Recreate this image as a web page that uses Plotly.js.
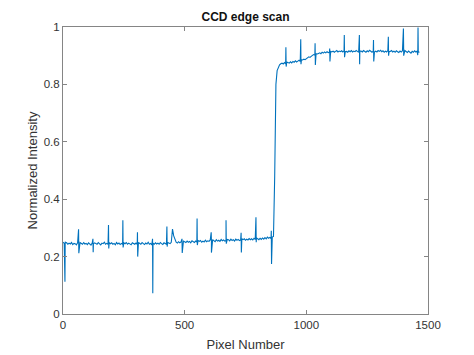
<!DOCTYPE html>
<html>
<head>
<meta charset="utf-8">
<script src="https://cdn.plot.ly/plotly-3.0.1.min.js"></script>
<style>html,body{margin:0;padding:0;background:#fff;}#chart{width:474px;height:355px;}</style>
</head>
<body>
<div id="chart"></div>
<script>
// Pixel step between baseline samples
const pixelStep = 5;

// Normalized intensity baseline, one reading every 5 pixels (0 .. 1465)
const baseline = [
  0.250,0.246,0.250,0.248,0.243,0.247,0.244,0.249,0.242,0.246,0.245,0.241,0.248,0.244,0.249,0.247,0.243,0.249,0.244,0.246,
  0.242,0.248,0.245,0.240,0.247,0.244,0.248,0.246,0.243,0.249,0.244,0.241,0.247,0.245,0.250,0.243,0.246,0.243,0.249,0.245,
  0.248,0.243,0.246,0.241,0.249,0.244,0.247,0.242,0.246,0.243,0.248,0.245,0.249,0.243,0.247,0.244,0.241,0.248,0.245,0.243,
  0.247,0.243,0.249,0.246,0.243,0.249,0.245,0.242,0.247,0.244,0.250,0.243,0.246,0.241,0.247,0.243,0.248,0.244,0.247,0.243,
  0.249,0.245,0.242,0.248,0.244,0.243,0.249,0.247,0.245,0.250,0.296,0.272,0.256,0.250,0.247,0.252,0.248,0.251,0.249,0.254,
  0.252,0.249,0.254,0.250,0.253,0.248,0.255,0.251,0.249,0.254,0.251,0.256,0.253,0.256,0.250,0.254,0.251,0.257,0.252,0.255,
  0.253,0.258,0.254,0.259,0.256,0.252,0.259,0.254,0.257,0.253,0.260,0.255,0.258,0.254,0.256,0.260,0.259,0.255,0.261,0.256,
  0.259,0.254,0.261,0.257,0.260,0.256,0.258,0.262,0.259,0.262,0.257,0.261,0.258,0.263,0.259,0.262,0.258,0.264,0.260,0.265,
  0.262,0.259,0.264,0.260,0.265,0.261,0.266,0.262,0.268,0.264,0.267,0.263,0.268,0.270,0.480,0.800,0.848,0.862,0.868,0.872,
  0.874,0.871,0.876,0.872,0.878,0.877,0.874,0.879,0.875,0.880,0.877,0.882,0.878,0.881,0.884,0.880,0.886,0.885,0.888,0.886,
  0.890,0.893,0.896,0.894,0.899,0.901,0.904,0.902,0.907,0.906,0.908,0.910,0.907,0.912,0.909,0.913,0.910,0.914,0.911,0.912,
  0.915,0.913,0.916,0.912,0.915,0.918,0.913,0.916,0.914,0.917,0.913,0.917,0.914,0.915,0.912,0.917,0.914,0.918,0.913,0.916,
  0.914,0.918,0.915,0.912,0.917,0.916,0.913,0.918,0.915,0.912,0.917,0.914,0.919,0.915,0.912,0.916,0.913,0.916,0.913,0.918,
  0.915,0.919,0.914,0.917,0.912,0.916,0.913,0.918,0.914,0.915,0.918,0.913,0.916,0.912,0.917,0.914,0.911,0.916,0.913,0.917,
  0.914,0.918,0.914,0.911,0.916,0.913,0.909,0.915,0.912,0.917,0.913,0.916,0.912,0.913
];

// Single-pixel spikes: pixel, first reading, reading on the next pixel
const spikePixels = [8, 64, 123, 187, 246, 306, 368, 427, 489, 551, 609, 670, 732, 793, 856,
                     916, 977, 1036, 1096, 1156, 1218, 1276, 1337, 1399, 1458];
const spikeFirst  = [0.112, 0.295, 0.262, 0.310, 0.327, 0.285, 0.262, 0.305, 0.262, 0.333, 0.285, 0.327, 0.283, 0.337, 0.290,
                     0.929, 0.957, 0.943, 0.925, 0.972, 0.972, 0.955, 0.966, 0.995, 0.902];
const spikeSecond = [0.252, 0.212, 0.215, 0.228, 0.232, 0.200, 0.072, 0.235, 0.213, 0.240, 0.214, 0.245, 0.214, 0.250, 0.174,
                     0.862, 0.870, 0.868, 0.880, 0.895, 0.870, 0.880, 0.900, 0.900, 0.998];

// Merge baseline readings and spikes into one pixel-ordered series
const points = baseline.map((v, i) => [i * pixelStep, v]);
spikePixels.forEach((p, k) => {
  points.push([p, spikeFirst[k]]);
  points.push([p + 1, spikeSecond[k]]);
});
points.sort((a, b) => a[0] - b[0]);
const pixelNumber = points.map(p => p[0]);
const intensity = points.map(p => p[1]);

const xTicks = [0, 500, 1000, 1500];
const yTicks = [0, 0.2, 0.4, 0.6, 0.8, 1];
const yTickText = ['0', '0.2', '0.4', '0.6', '0.8', '1'];

const fontFamily = 'Liberation Sans, Arial, Helvetica, sans-serif';
const axisCommon = {
  showline: true, linecolor: '#858585', linewidth: 1,
  mirror: 'ticks', ticks: 'inside', ticklen: 4, tickcolor: '#858585', tickwidth: 1,
  showgrid: false, zeroline: false,
  tickfont: {family: fontFamily, size: 11.5, color: '#333333'}
};

Plotly.newPlot('chart', [{
  x: pixelNumber, y: intensity, type: 'scatter', mode: 'lines',
  line: {color: '#0072BD', width: 1.1}, hoverinfo: 'skip'
}], {
  width: 474, height: 355,
  margin: {l: 63, r: 46, t: 27, b: 41},
  paper_bgcolor: '#ffffff', plot_bgcolor: '#ffffff',
  showlegend: false,
  title: {text: '<b>CCD edge scan</b>', font: {family: fontFamily, size: 12, color: '#111111'},
          x: 0.5, xref: 'paper', xanchor: 'center', y: 0.953, yref: 'container', yanchor: 'middle'},
  xaxis: Object.assign({}, axisCommon, {
    range: [0, 1500], tickvals: xTicks, ticktext: xTicks.map(String),
    title: {text: 'Pixel Number', font: {family: fontFamily, size: 13, color: '#333333'}, standoff: 10}
  }),
  yaxis: Object.assign({}, axisCommon, {
    range: [0, 1], tickvals: yTicks, ticktext: yTickText,
    title: {text: 'Normalized Intensity', font: {family: fontFamily, size: 13, color: '#333333'}, standoff: 3}
  })
}, {staticPlot: true, displayModeBar: false});
</script>
</body>
</html>
